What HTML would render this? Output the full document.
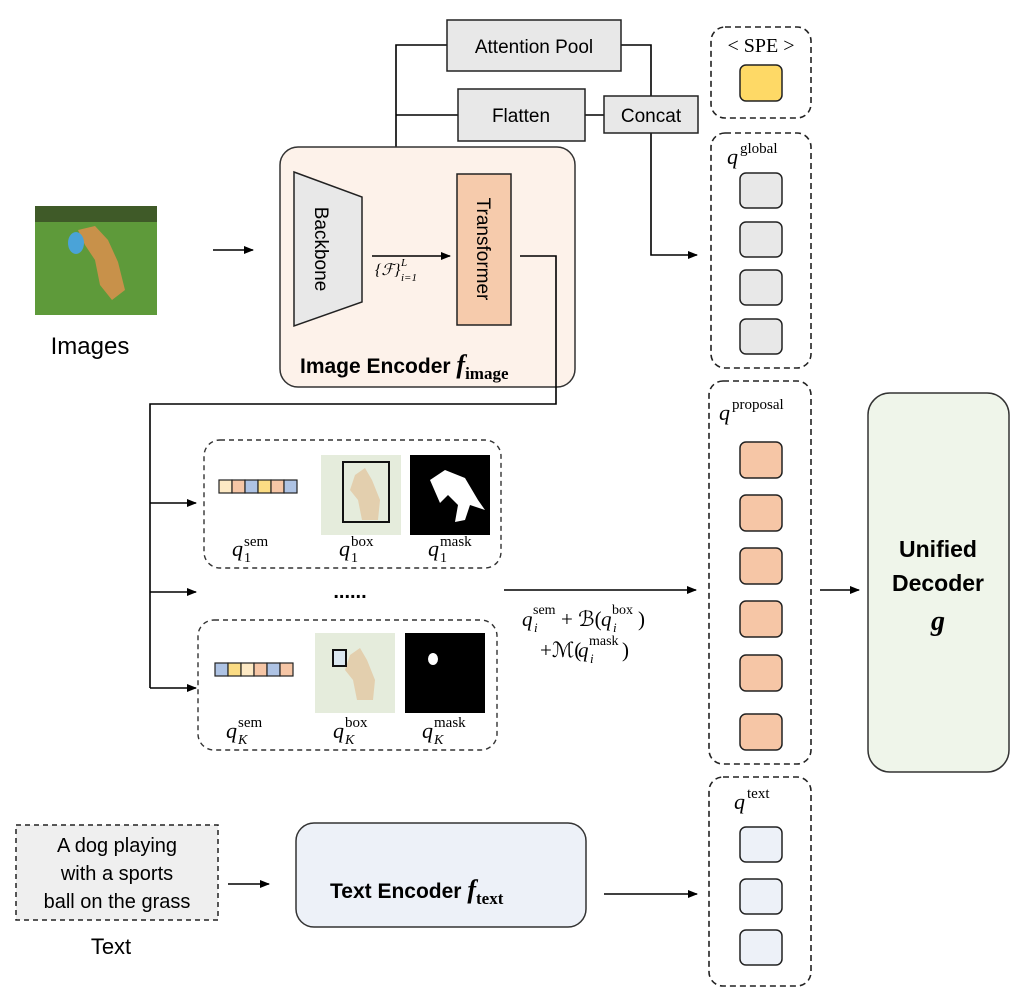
<!DOCTYPE html>
<html><head><meta charset="utf-8"><style>
html,body{margin:0;padding:0;background:#fff;}
svg{display:block;}
text{font-family:"Liberation Sans",sans-serif;fill:#000;}
.s{font-family:"Liberation Serif",serif;}
</style></head><body>
<svg width="1024" height="1001" viewBox="0 0 1024 1001" xmlns="http://www.w3.org/2000/svg">
<defs>
<marker id="a" markerWidth="10" markerHeight="8" refX="9" refY="4" orient="auto" markerUnits="userSpaceOnUse"><path d="M0,0 L10,4 L0,8 Z" fill="#000"/></marker>
</defs>
<g stroke="#000" stroke-width="1.6" fill="none">
<path d="M396,256 V45 H447"/>
<path d="M396,115 H458"/>
<path d="M621,45 H651 V97"/>
<path d="M585,115 H604"/>
<path d="M651,133 V255 H697" marker-end="url(#a)"/>
<path d="M213,250 H253" marker-end="url(#a)"/>
</g>
<rect x="447" y="20" width="174" height="51" fill="#e8e8e8" stroke="#222" stroke-width="1.5"/>
<text x="534" y="53" font-size="19" text-anchor="middle">Attention Pool</text>
<rect x="458" y="89" width="127" height="52" fill="#e8e8e8" stroke="#222" stroke-width="1.5"/>
<text x="521" y="122" font-size="19" text-anchor="middle">Flatten</text>
<rect x="604" y="96" width="94" height="37" fill="#e8e8e8" stroke="#222" stroke-width="1.5"/>
<text x="651" y="122" font-size="19" text-anchor="middle">Concat</text>

<rect x="35" y="206" width="122" height="109" fill="#5e9a3a"/>
<rect x="35" y="206" width="122" height="16" fill="#3f5a28"/>
<path d="M78,230 L95,226 L108,240 L118,262 L125,290 L112,300 L100,285 L95,260 L85,245 Z" fill="#c8914a"/>
<ellipse cx="76" cy="243" rx="8" ry="11" fill="#4aa3d8"/>
<text x="90" y="354" font-size="24" text-anchor="middle">Images</text>

<rect x="280" y="147" width="295" height="240" rx="18" fill="#fdf2ea" stroke="#333" stroke-width="1.5"/>
<path d="M294,172 L362,197 L362,302 L294,326 Z" fill="#e8e8e8" stroke="#222" stroke-width="1.5"/>
<text transform="translate(315,249) rotate(90)" font-size="19" text-anchor="middle">Backbone</text>
<rect x="457" y="174" width="54" height="151" fill="#f6cbac" stroke="#222" stroke-width="1.5"/>
<text transform="translate(477,249) rotate(90)" font-size="19" text-anchor="middle">Transformer</text>
<path d="M372,256 H450" stroke="#000" stroke-width="1.6" marker-end="url(#a)"/>
<text x="375" y="275" class="s" font-size="16" font-style="italic">{ℱ}</text>
<text x="401" y="266" class="s" font-size="11" font-style="italic">L</text>
<text x="401" y="281" class="s" font-size="11" font-style="italic">i=1</text>
<text x="300" y="373" font-size="21" font-weight="bold">Image Encoder <tspan class="s" font-style="italic" font-size="26">f</tspan><tspan class="s" font-size="17" dy="6">image</tspan></text>

<g stroke="#000" stroke-width="1.6" fill="none">
<path d="M520,256 H556 V404 H150 V688"/>
<path d="M150,503 H196" marker-end="url(#a)"/>
<path d="M150,592 H196" marker-end="url(#a)"/>
<path d="M150,688 H196" marker-end="url(#a)"/>
<path d="M504,590 H696" marker-end="url(#a)"/>
<path d="M820,590 H859" marker-end="url(#a)"/>
<path d="M228,884 H269" marker-end="url(#a)"/>
<path d="M604,894 H697" marker-end="url(#a)"/>
</g>

<rect x="204" y="440" width="297" height="128" rx="16" fill="none" stroke="#333" stroke-width="1.4" stroke-dasharray="5,4"/>
<g stroke="#222" stroke-width="1.2">
<rect x="219" y="480" width="13" height="13" fill="#fde9c4"/><rect x="232" y="480" width="13" height="13" fill="#f6c6a6"/><rect x="245" y="480" width="13" height="13" fill="#aec3e4"/><rect x="258" y="480" width="13" height="13" fill="#fbdc84"/><rect x="271" y="480" width="13" height="13" fill="#f6c6a6"/><rect x="284" y="480" width="13" height="13" fill="#aec3e4"/>
</g>
<rect x="321" y="455" width="80" height="80" fill="#e5ecdc"/>
<path d="M355,475 L365,468 L372,480 L380,500 L378,520 L362,520 L358,500 L350,490 Z" fill="#e3cfae"/>
<rect x="343" y="462" width="46" height="60" fill="none" stroke="#111" stroke-width="2"/>
<rect x="410" y="455" width="80" height="80" fill="#000"/>
<path d="M430,480 L445,470 L465,478 L478,500 L485,510 L470,505 L465,520 L455,522 L458,505 L448,495 L440,503 Z" fill="#fff"/>
<text x="232" y="556" class="s" font-size="22" font-style="italic">q</text><text x="244" y="546" class="s" font-size="15">sem</text><text x="244" y="562" class="s" font-size="14">1</text>
<text x="339" y="556" class="s" font-size="22" font-style="italic">q</text><text x="351" y="546" class="s" font-size="15">box</text><text x="351" y="562" class="s" font-size="14">1</text>
<text x="428" y="556" class="s" font-size="22" font-style="italic">q</text><text x="440" y="546" class="s" font-size="15">mask</text><text x="440" y="562" class="s" font-size="14">1</text>
<text x="350" y="598" font-size="20" font-weight="bold" text-anchor="middle">......</text>

<rect x="198" y="620" width="299" height="130" rx="16" fill="none" stroke="#333" stroke-width="1.4" stroke-dasharray="5,4"/>
<g stroke="#222" stroke-width="1.2">
<rect x="215" y="663" width="13" height="13" fill="#aec3e4"/><rect x="228" y="663" width="13" height="13" fill="#fbdc84"/><rect x="241" y="663" width="13" height="13" fill="#fde9c4"/><rect x="254" y="663" width="13" height="13" fill="#f6c6a6"/><rect x="267" y="663" width="13" height="13" fill="#aec3e4"/><rect x="280" y="663" width="13" height="13" fill="#f6c6a6"/>
</g>
<rect x="315" y="633" width="80" height="80" fill="#e5ecdc"/>
<path d="M350,655 L360,648 L367,660 L375,680 L373,700 L357,700 L353,680 L345,670 Z" fill="#e3cfae"/>
<rect x="333" y="650" width="13" height="16" fill="#dbe8f0" stroke="#111" stroke-width="2"/>
<rect x="405" y="633" width="80" height="80" fill="#000"/>
<ellipse cx="433" cy="659" rx="5" ry="6" fill="#fff"/>
<text x="226" y="738" class="s" font-size="22" font-style="italic">q</text><text x="238" y="727" class="s" font-size="15">sem</text><text x="238" y="744" class="s" font-size="14" font-style="italic">K</text>
<text x="333" y="738" class="s" font-size="22" font-style="italic">q</text><text x="345" y="727" class="s" font-size="15">box</text><text x="345" y="744" class="s" font-size="14" font-style="italic">K</text>
<text x="422" y="738" class="s" font-size="22" font-style="italic">q</text><text x="434" y="727" class="s" font-size="15">mask</text><text x="434" y="744" class="s" font-size="14" font-style="italic">K</text>

<g>
<text x="522" y="626" class="s" font-size="21" font-style="italic">q</text>
<text x="533" y="614" class="s" font-size="14">sem</text>
<text x="534" y="632" class="s" font-size="13" font-style="italic">i</text>
<text x="561" y="626" class="s" font-size="21">+ ℬ(</text>
<text x="601" y="626" class="s" font-size="21" font-style="italic">q</text>
<text x="612" y="614" class="s" font-size="14">box</text>
<text x="613" y="632" class="s" font-size="13" font-style="italic">i</text>
<text x="638" y="626" class="s" font-size="21">)</text>
<text x="540" y="657" class="s" font-size="21">+ℳ(</text>
<text x="578" y="657" class="s" font-size="21" font-style="italic">q</text>
<text x="589" y="645" class="s" font-size="14">mask</text>
<text x="590" y="663" class="s" font-size="13" font-style="italic">i</text>
<text x="622" y="657" class="s" font-size="21">)</text>
</g>

<g fill="none" stroke="#222" stroke-width="1.6" stroke-dasharray="6,4">
<rect x="711" y="27" width="100" height="91" rx="14"/>
<rect x="711" y="133" width="100" height="235" rx="14"/>
<rect x="709" y="381" width="102" height="383" rx="14"/>
<rect x="709" y="777" width="102" height="209" rx="14"/>
</g>
<text x="761" y="52" class="s" font-size="20" text-anchor="middle">&lt; SPE &gt;</text>
<rect x="740" y="65" width="42" height="36" rx="6" fill="#fed966" stroke="#222" stroke-width="1.5"/>
<text x="727" y="164" class="s" font-size="22" font-style="italic">q</text><text x="740" y="153" class="s" font-size="15">global</text>
<g fill="#e8e8e8" stroke="#222" stroke-width="1.5">
<rect x="740" y="173" width="42" height="35" rx="6"/><rect x="740" y="222" width="42" height="35" rx="6"/><rect x="740" y="270" width="42" height="35" rx="6"/><rect x="740" y="319" width="42" height="35" rx="6"/>
</g>
<text x="719" y="420" class="s" font-size="22" font-style="italic">q</text><text x="732" y="409" class="s" font-size="15">proposal</text>
<g fill="#f6c6a6" stroke="#222" stroke-width="1.5">
<rect x="740" y="442" width="42" height="36" rx="6"/><rect x="740" y="495" width="42" height="36" rx="6"/><rect x="740" y="548" width="42" height="36" rx="6"/><rect x="740" y="601" width="42" height="36" rx="6"/><rect x="740" y="655" width="42" height="36" rx="6"/><rect x="740" y="714" width="42" height="36" rx="6"/>
</g>
<text x="734" y="809" class="s" font-size="22" font-style="italic">q</text><text x="747" y="798" class="s" font-size="15">text</text>
<g fill="#edf1f8" stroke="#222" stroke-width="1.5">
<rect x="740" y="827" width="42" height="35" rx="6"/><rect x="740" y="879" width="42" height="35" rx="6"/><rect x="740" y="930" width="42" height="35" rx="6"/>
</g>

<rect x="868" y="393" width="141" height="379" rx="22" fill="#eff5ea" stroke="#333" stroke-width="1.5"/>
<text x="938" y="557" font-size="23" font-weight="bold" text-anchor="middle">Unified</text>
<text x="938" y="591" font-size="23" font-weight="bold" text-anchor="middle">Decoder</text>
<text x="938" y="630" class="s" font-size="28" font-weight="bold" font-style="italic" text-anchor="middle">g</text>

<rect x="16" y="825" width="202" height="95" fill="#efefef" stroke="#222" stroke-width="1.5" stroke-dasharray="5,4"/>
<text x="117" y="852" font-size="20" text-anchor="middle">A dog playing</text>
<text x="117" y="880" font-size="20" text-anchor="middle">with a sports</text>
<text x="117" y="908" font-size="20" text-anchor="middle">ball on the grass</text>
<text x="111" y="954" font-size="22" text-anchor="middle">Text</text>
<rect x="296" y="823" width="290" height="104" rx="18" fill="#edf1f8" stroke="#333" stroke-width="1.5"/>
<text x="330" y="898" font-size="21" font-weight="bold">Text Encoder <tspan class="s" font-style="italic" font-size="26">f</tspan><tspan class="s" font-size="17" dy="6">text</tspan></text>
</svg>
</body></html>
